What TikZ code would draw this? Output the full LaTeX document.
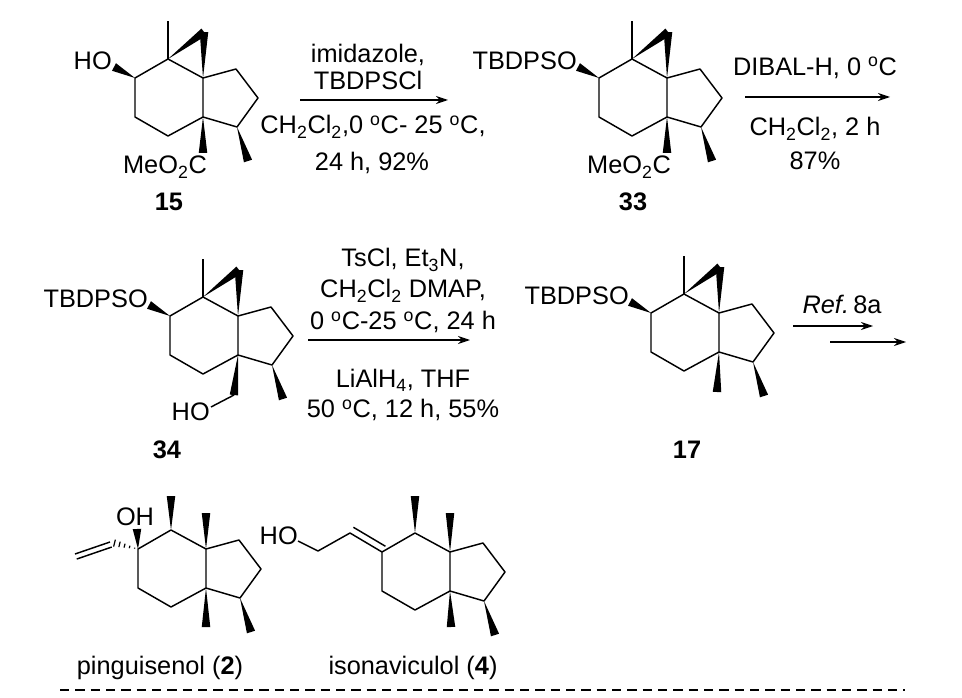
\documentclass[tikz,border=0pt]{standalone}
\usepackage{fontspec}
\setmainfont{Liberation Sans}
\usetikzlibrary{calc,arrows.meta}
\newcommand{\wdg}[2]{\fill ($#1$) -- ($($#2$)!3.2pt!90:($#1$)$) -- ($($#2$)!3.2pt!-90:($#1$)$) -- cycle;}
\newcommand{\hsh}[2]{\foreach \t in {0.12,0.3,0.48,0.66,0.84,1.0}{\draw[line width=0.9pt] ($($#1$)!\t!($#2$)!{\t*3.2pt}!90:($#2$)$) -- ($($#1$)!\t!($#2$)!{\t*3.2pt}!-90:($#2$)$);}}
\newcommand{\dg}{\textsuperscript{o}}
\newcommand{\ring}{%
 \coordinate (C1) at (0,0); \coordinate (C2) at (35,19); \coordinate (C3) at (-33,19);
 \coordinate (C4) at (-33,58); \coordinate (C5) at (0,77); \coordinate (C6) at (35,58);
 \coordinate (Ca) at (68,10); \coordinate (Cb) at (90,39); \coordinate (Cc) at (69,68);
 \draw[bond] (C1)--(C2)--(C6)--(C5)--(C4)--(C3)--(C1);
 \draw[bond] (C2)--(Ca)--(Cb)--(Cc)--(C6);
 \wdg{(Cc)}{(80,102)}}
\newcommand{\cprop}{%
 \draw[bond] (C1)--(0,-38);
 \wdg{(C1)}{(36,-27)} \wdg{(C2)}{(36,-27)}}
\tikzset{bond/.style={line width=1.1pt,line join=round},
 txt/.style={inner sep=0pt,font=\fontsize{19}{23}\selectfont},
 lbl/.style={txt,font=\fontsize{19}{23}\selectfont\bfseries},
 arr/.style={line width=1pt,-{Stealth[length=9pt,width=6pt]}}}
\begin{document}
\begin{tikzpicture}[x=0.75pt,y=-0.75pt]
\useasboundingbox (0,0) rectangle (962,698);
% 15
\begin{scope}[shift={(168,59)}]
\ring \cprop
\wdg{(C3)}{(-54,8)}
\node[txt,anchor=east] (ho15) at (-56,2) {HO};
\wdg{(C6)}{(35,94)}
\node[txt] (me15) at (-3,108) {MeO\textsubscript{2}C};
\node[lbl] (l15) at (1,143) {15};
\end{scope}
% arrow 1
\coordinate (a1s) at (300,100); \coordinate (a1e) at (448,100);
\draw[arr] (a1s) -- (a1e);
\node[txt] (t1a) at (368,55) {imidazole,};
\node[txt] (t1b) at (368,80) {TBDPSCl};
\node[txt] (t1c) at (373,127) {CH\textsubscript{2}Cl\textsubscript{2},0 \dg C- 25 \dg C,};
\node[txt] (t1d) at (372,163) {24 h, 92\%};
% 33
\begin{scope}[shift={(632,59)}]
\ring \cprop
\wdg{(C3)}{(-54,8)}
\node[txt,anchor=east] (o33) at (-55,2) {TBDPSO};
\wdg{(C6)}{(35,94)}
\node[txt] (me33) at (-3,108) {MeO\textsubscript{2}C};
\node[lbl] (l33) at (1,143) {33};
\end{scope}
% arrow 2
\coordinate (a2s) at (745,97); \coordinate (a2e) at (890,97);
\draw[arr] (a2s) -- (a2e);
\node[txt] (t2a) at (815,68) {DIBAL-H, 0 \dg C};
\node[txt] (t2b) at (815,129) {CH\textsubscript{2}Cl\textsubscript{2}, 2 h};
\node[txt] (t2c) at (815,161) {87\%};
% 34
\begin{scope}[shift={(203,297)}]
\ring \cprop
\wdg{(C3)}{(-54,8)}
\node[txt,anchor=east] (o34) at (-55,2) {TBDPSO};
\wdg{(C6)}{(31,98)}
\draw[bond] (31,98) -- (8,110);
\node[txt,anchor=east] (ho34) at (7,115) {HO};
\node[lbl] (l34) at (-36,153) {34};
\end{scope}
% arrow 3
\coordinate (a3s) at (308,340); \coordinate (a3e) at (470,340);
\draw[arr] (a3s) -- (a3e);
\node[txt] (t3a) at (403,260) {TsCl, Et\textsubscript{3}N,};
\node[txt] (t3b) at (403,291) {CH\textsubscript{2}Cl\textsubscript{2} DMAP,};
\node[txt] (t3c) at (403,322) {0 \dg C-25 \dg C, 24 h};
\node[txt] (t3d) at (403,380) {LiAlH\textsubscript{4}, THF};
\node[txt] (t3e) at (403,410) {50 \dg C, 12 h, 55\%};
% 17
\begin{scope}[shift={(684,294)}]
\ring \cprop
\wdg{(C3)}{(-54,8)}
\node[txt,anchor=east] (o17) at (-55,2) {TBDPSO};
\wdg{(C6)}{(33,98)}
\node[lbl] (l17) at (3,156) {17};
\end{scope}
% arrows Ref 8a
\coordinate (rs) at (793,326); \coordinate (re) at (873,326);
\coordinate (qs) at (830,342); \coordinate (qe) at (906,342);
\draw[arr] (rs) -- (re);
\draw[arr] (qs) -- (qe);
\node[txt] (t4) at (842,304) {\textit{Ref.}\,8a};
% pinguisenol
\begin{scope}[shift={(171,530)}]
\ring
\wdg{(C1)}{(0,-34)} \wdg{(C2)}{(35,-17)} \wdg{(C6)}{(35,97)}
\wdg{(C3)}{(-34,-1)}
\node[txt] (oh2) at (-36,-13) {OH};
\hsh{(C3)}{(-61,12)}
\draw[bond] (-61,12) -- (-96,24);
\draw[bond] ($(-61,12)!4pt!90:(-96,24)$) -- ($(-96,24)!4pt!-90:(-61,12)$);
\node[txt] (n2) at (-11,138) {pinguisenol (\textbf{2})};
\end{scope}
% isonaviculol
\begin{scope}[shift={(415,533)}]
\ring
\wdg{(C1)}{(0,-37)} \wdg{(C2)}{(35,-20)} \wdg{(C6)}{(36,94)}
\draw[bond] (C3) -- (-65,0) -- (-97,18) -- (-117,8);
\draw[bond] ($(C3)!5pt!-90:(-65,0)$) -- ($(-65,0)!5pt!90:(C3)$);
\node[txt,anchor=east] (ho4) at (-117,3) {HO};
\node[txt] (n4) at (-2,135) {isonaviculol (\textbf{4})};
\end{scope}
\coordinate (d1) at (60,690); \coordinate (d2) at (905,690);
\draw[line width=0.9pt,dash pattern=on 7pt off 4.5pt] (d1) -- (d2);
\end{tikzpicture}
\end{document}
